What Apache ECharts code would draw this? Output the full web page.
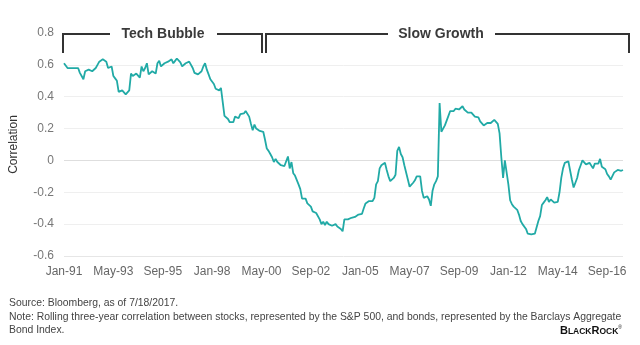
<!DOCTYPE html>
<html>
<head>
<meta charset="utf-8">
<script src="https://cdn.jsdelivr.net/npm/echarts@6/dist/echarts.min.js"></script>
<style>
  html, body { margin: 0; padding: 0; background: #fff; }
  #chart { width: 640px; height: 345px; }
</style>
</head>
<body>
<div id="chart"></div>
<script>
// month labels Jan-91 .. Jun-17
const monthNames = ['Jan', 'Feb', 'Mar', 'Apr', 'May', 'Jun', 'Jul', 'Aug', 'Sep', 'Oct', 'Nov', 'Dec'];
const months = [];
for (let y = 1991; y <= 2017; y++) {
    for (let m = 0; m < 12; m++) {
        if (y === 2017 && m > 5) break;
        months.push(monthNames[m] + '-' + String(y % 100).padStart(2, '0'));
    }
}

// rolling 3-year stock/bond correlation, one row per year
const correlation = [
    0.61, 0.60, 0.58, 0.57, 0.58, 0.58, 0.58, 0.58, 0.58, 0.55, 0.53, 0.51,          // 1991
    0.56, 0.57, 0.57, 0.56, 0.56, 0.57, 0.58, 0.60, 0.62, 0.63, 0.635, 0.63,         // 1992
    0.62, 0.58, 0.585, 0.59, 0.53, 0.515, 0.50, 0.43, 0.43, 0.44, 0.43, 0.415,       // 1993
    0.41, 0.44, 0.545, 0.53, 0.53, 0.545, 0.54, 0.52, 0.59, 0.56, 0.58, 0.61,        // 1994
    0.54, 0.55, 0.56, 0.57, 0.545, 0.61, 0.625, 0.59, 0.60, 0.61, 0.615, 0.62,       // 1995
    0.625, 0.635, 0.61, 0.625, 0.64, 0.63, 0.615, 0.59, 0.60, 0.61, 0.615, 0.62,     // 1996
    0.625, 0.58, 0.55, 0.545, 0.54, 0.535, 0.56, 0.59, 0.61, 0.57, 0.54, 0.51,       // 1997
    0.505, 0.48, 0.45, 0.44, 0.44, 0.455, 0.465, 0.28, 0.27, 0.26, 0.24, 0.23,       // 1998
    0.24, 0.275, 0.27, 0.265, 0.29, 0.29, 0.295, 0.31, 0.30, 0.275, 0.23, 0.19,      // 1999
    0.225, 0.20, 0.19, 0.185, 0.19, 0.18, 0.13, 0.075, 0.06, 0.04, 0.02, -0.01,      // 2000
    0.01, -0.01, -0.005, -0.03, -0.03, -0.035, -0.035, 0.025, -0.05, -0.01, -0.08, -0.095, // 2001
    -0.10, -0.15, -0.18, -0.24, -0.23, -0.24, -0.27, -0.26, -0.29, -0.32, -0.32, -0.33,    // 2002
    -0.34, -0.37, -0.40, -0.385, -0.405, -0.385, -0.40, -0.41, -0.41, -0.42, -0.40, -0.415, // 2003
    -0.42, -0.43, -0.445, -0.37, -0.375, -0.37, -0.36, -0.36, -0.37, -0.355, -0.35, -0.34,  // 2004
    -0.34, -0.335, -0.30, -0.27, -0.265, -0.255, -0.255, -0.255, -0.235, -0.15, -0.13, -0.05, // 2005
    -0.03, -0.02, -0.015, -0.06, -0.10, -0.13, -0.125, -0.11, -0.09, 0.06, 0.085, 0.04,   // 2006
    0.02, -0.03, -0.03, -0.12, -0.165, -0.155, -0.14, -0.125, -0.10, -0.095, -0.10, -0.19, // 2007
    -0.235, -0.23, -0.225, -0.245, -0.285, -0.19, -0.15, -0.13, -0.10, 0.36, 0.18, 0.19,  // 2008
    0.22, 0.25, 0.28, 0.31, 0.305, 0.31, 0.325, 0.325, 0.32, 0.33, 0.34, 0.32,       // 2009
    0.31, 0.30, 0.29, 0.30, 0.29, 0.275, 0.285, 0.27, 0.245, 0.235, 0.22, 0.21,      // 2010
    0.235, 0.23, 0.235, 0.245, 0.255, 0.245, 0.23, 0.17, 0.02, -0.11, 0.0, -0.005,   // 2011
    -0.15, -0.25, -0.275, -0.29, -0.30, -0.31, -0.34, -0.38, -0.40, -0.40, -0.43, -0.46,  // 2012
    -0.465, -0.465, -0.46, -0.46, -0.45, -0.38, -0.35, -0.28, -0.265, -0.25, -0.23, -0.26, // 2013
    -0.245, -0.25, -0.265, -0.255, -0.26, -0.20, -0.11, -0.05, -0.015, -0.005, -0.005, -0.01, // 2014
    -0.12, -0.17, -0.165, -0.11, -0.06, -0.03, 0.0, -0.01, -0.025, -0.02, -0.015, -0.01,  // 2015
    -0.05, -0.02, -0.015, -0.02, 0.01, -0.04, -0.05, -0.055, -0.085, -0.10, -0.12, -0.11, // 2016
    -0.075, -0.065, -0.06, -0.06, -0.065, -0.06                                      // 2017
];

const xTickLabels = ['Jan-91', 'May-93', 'Sep-95', 'Jan-98', 'May-00', 'Sep-02',
    'Jan-05', 'May-07', 'Sep-09', 'Jan-12', 'May-14', 'Sep-16'];
const periods = ['Tech Bubble', 'Slow Growth'];
const sourceNote = 'Source: Bloomberg, as of 7/18/2017.';
const footNote = 'Note: Rolling three-year correlation between stocks, represented by the S&P 500, and bonds, represented by the Barclays Aggregate';
const footNote2 = 'Bond Index.';

const font = 'Liberation Sans, Arial, sans-serif';
const bracketStyle = { stroke: '#333', lineWidth: 2, fill: null };

const chart = echarts.init(document.getElementById('chart'));

chart.setOption({
    animation: false,
    grid: { left: 63, right: 17, top: 33, bottom: 89 },
    xAxis: {
        type: 'category',
        data: months,
        boundaryGap: false,
        axisLine: { show: false, onZero: false },
        axisTick: { show: false },
        splitLine: { show: false },
        axisLabel: {
            interval: 27,
            margin: 10,
            color: '#666',
            fontSize: 12,
            fontFamily: font,
            formatter: v => xTickLabels.includes(v) ? v : ''
        }
    },
    yAxis: {
        type: 'value',
        min: -0.6,
        max: 0.8,
        interval: 0.2,
        name: 'Correlation',
        nameLocation: 'middle',
        nameGap: 44,
        nameTextStyle: { color: '#333', fontSize: 12, fontFamily: font },
        axisLine: { show: false },
        axisTick: { show: false },
        axisLabel: {
            margin: 10,
            color: '#777',
            fontSize: 12,
            fontFamily: font,
            formatter: v => (Math.abs(v) < 1e-9 ? '0' : +v.toFixed(1)) + ''
        },
        splitLine: {
            lineStyle: {
                color: ['#e6e6e6', '#efefef', '#efefef', '#dedede', '#efefef', '#efefef', '#efefef', 'rgba(0,0,0,0)'],
                width: 1
            }
        }
    },
    series: [{
        type: 'line',
        data: correlation,
        showSymbol: false,
        lineStyle: { color: '#21aaa6', width: 1.8 },
        itemStyle: { color: '#21aaa6' }
    }],
    graphic: [
        { type: 'polyline', shape: { points: [[63, 53], [63, 34], [110, 34]] }, style: bracketStyle },
        { type: 'polyline', shape: { points: [[217, 34], [262, 34], [262, 53]] }, style: bracketStyle },
        { type: 'polyline', shape: { points: [[266, 53], [266, 34], [388, 34]] }, style: bracketStyle },
        { type: 'polyline', shape: { points: [[495, 34], [629, 34], [629, 53]] }, style: bracketStyle },
        {
            type: 'text', x: 163, y: 34,
            style: { text: periods[0], font: 'bold 14px ' + font, fill: '#3a3a3a', align: 'center', verticalAlign: 'middle' }
        },
        {
            type: 'text', x: 441, y: 34,
            style: { text: periods[1], font: 'bold 14px ' + font, fill: '#3a3a3a', align: 'center', verticalAlign: 'middle' }
        },
        {
            type: 'text', x: 9, y: 303,
            style: { text: sourceNote, font: '10.4px ' + font, fill: '#444', verticalAlign: 'middle' }
        },
        {
            type: 'text', x: 9, y: 317,
            style: { text: footNote, font: '10.4px ' + font, fill: '#444', verticalAlign: 'middle' }
        },
        {
            type: 'text', x: 9, y: 330,
            style: { text: footNote2, font: '10.4px ' + font, fill: '#444', verticalAlign: 'middle' }
        },
        {
            type: 'text', x: 622, y: 331,
            style: {
                text: '{b|B}{s|LACK}{b|R}{s|OCK}{r|®}',
                align: 'right',
                verticalAlign: 'middle',
                rich: {
                    b: { font: 'bold 11px ' + font, fill: '#111', verticalAlign: 'bottom' },
                    s: { font: 'bold 8.5px ' + font, fill: '#111', verticalAlign: 'bottom' },
                    r: { font: '5px ' + font, fill: '#111', verticalAlign: 'top' }
                }
            }
        }
    ]
});
</script>
</body>
</html>
